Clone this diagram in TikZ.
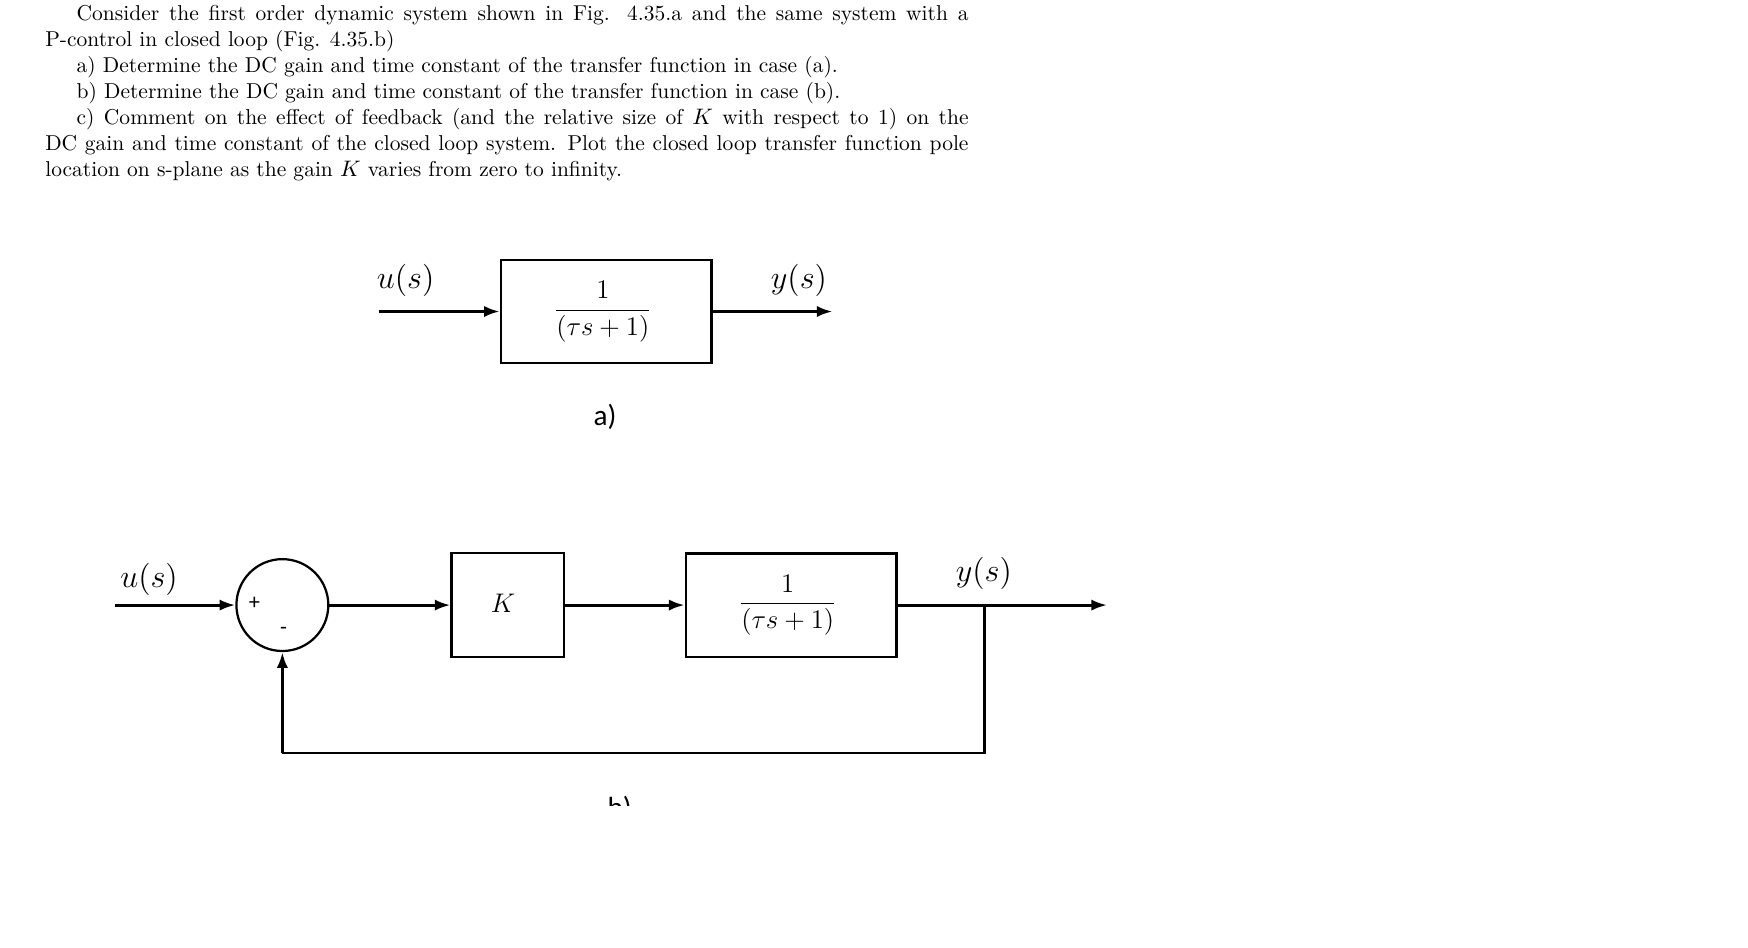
\documentclass[tikz,border=0pt]{standalone}
\usepackage{fontspec}
\newfontfamily\carl{Carlito}
\usetikzlibrary{arrows.meta}
\begin{document}
\begin{tikzpicture}[x=0.5pt,y=-0.5pt,
  blk/.style={draw,line width=1pt,inner sep=0pt},
  sig/.style={line width=1.3pt,-{Latex[length=7pt,width=5pt]}},
  wire/.style={line width=1.3pt},
  lbl/.style={font=\fontsize{14}{16}\selectfont},
  frac/.style={font=\fontsize{13}{15}\selectfont}]
\useasboundingbox (0,0) rectangle (1560,846);
\node[anchor=north west,inner sep=0pt,text width=412pt,align=justify,font=\fontsize{9.6}{11.6}\selectfont] (txt) at (40,4) {%
\parindent=14pt\indent Consider the first order dynamic system shown in Fig. 4.35.a and the same system with a P-control in closed loop (Fig. 4.35.b)\par
a) Determine the DC gain and time constant of the transfer function in case (a).\par
b) Determine the DC gain and time constant of the transfer function in case (b).\par
c) Comment on the effect of feedback (and the relative size of $K$ with respect to 1) on the DC gain and time constant of the closed loop system. Plot the closed loop transfer function pole location on s-plane as the gain $K$ varies from zero to infinity.};
% (a)
\node[blk,minimum width=94pt,minimum height=46pt] (ga) at (541,278) {};
\node[frac] (fa) at (538,278) {$\displaystyle\frac{1}{(\tau s+1)}$};
\coordinate (ua) at (338,278);
\coordinate (ya) at (743,278);
\draw[sig] (ua) -- (ga.west);
\draw[sig] (ga.east) -- (ya);
\node[lbl] (lua) at (362,250) {$u(s)$};
\node[lbl] (lya) at (713,250) {$y(s)$};
\node[font=\carl\fontsize{13}{15}\selectfont] (la) at (540,372) {a)};
% (b)
\node[draw,circle,line width=1pt,minimum size=41pt,inner sep=0pt] (sum) at (252,540) {};
\node[font=\carl\fontsize{10}{12}\selectfont] (plus) at (227,538) {+};
\node[font=\carl\fontsize{10}{12}\selectfont] (minus) at (253,563) {-};
\node[blk,minimum width=50pt,minimum height=46.5pt] (kb) at (453,540) {};
\node[font=\fontsize{13}{15}\selectfont] (kl) at (449,538) {$K$};
\node[blk,minimum width=94pt,minimum height=46pt] (gb) at (706,540) {};
\node[frac] (fb) at (703,540) {$\displaystyle\frac{1}{(\tau s+1)}$};
\coordinate (ub) at (103,540);
\coordinate (yb) at (988,540);
\coordinate (br) at (879,540);
\coordinate (c1) at (879,672);
\coordinate (c2) at (252,672);
\draw[sig] (ub) -- (sum.west);
\draw[sig] (sum.east) -- (kb.west);
\draw[sig] (kb.east) -- (gb.west);
\draw[sig] (gb.east) -- (yb);
\draw[wire] (br) -- (c1) -- (c2);
\draw[sig] (c2) -- (sum.south);
\node[lbl] (lub) at (133,517) {$u(s)$};
\node[lbl] (lyb) at (878,512) {$y(s)$};
\begin{scope}
\clip (500,700) rectangle (600,719);
\node[font=\carl\fontsize{13}{15}\selectfont] (lb) at (553,722) {b)};
\end{scope}
\end{tikzpicture}
\end{document}
